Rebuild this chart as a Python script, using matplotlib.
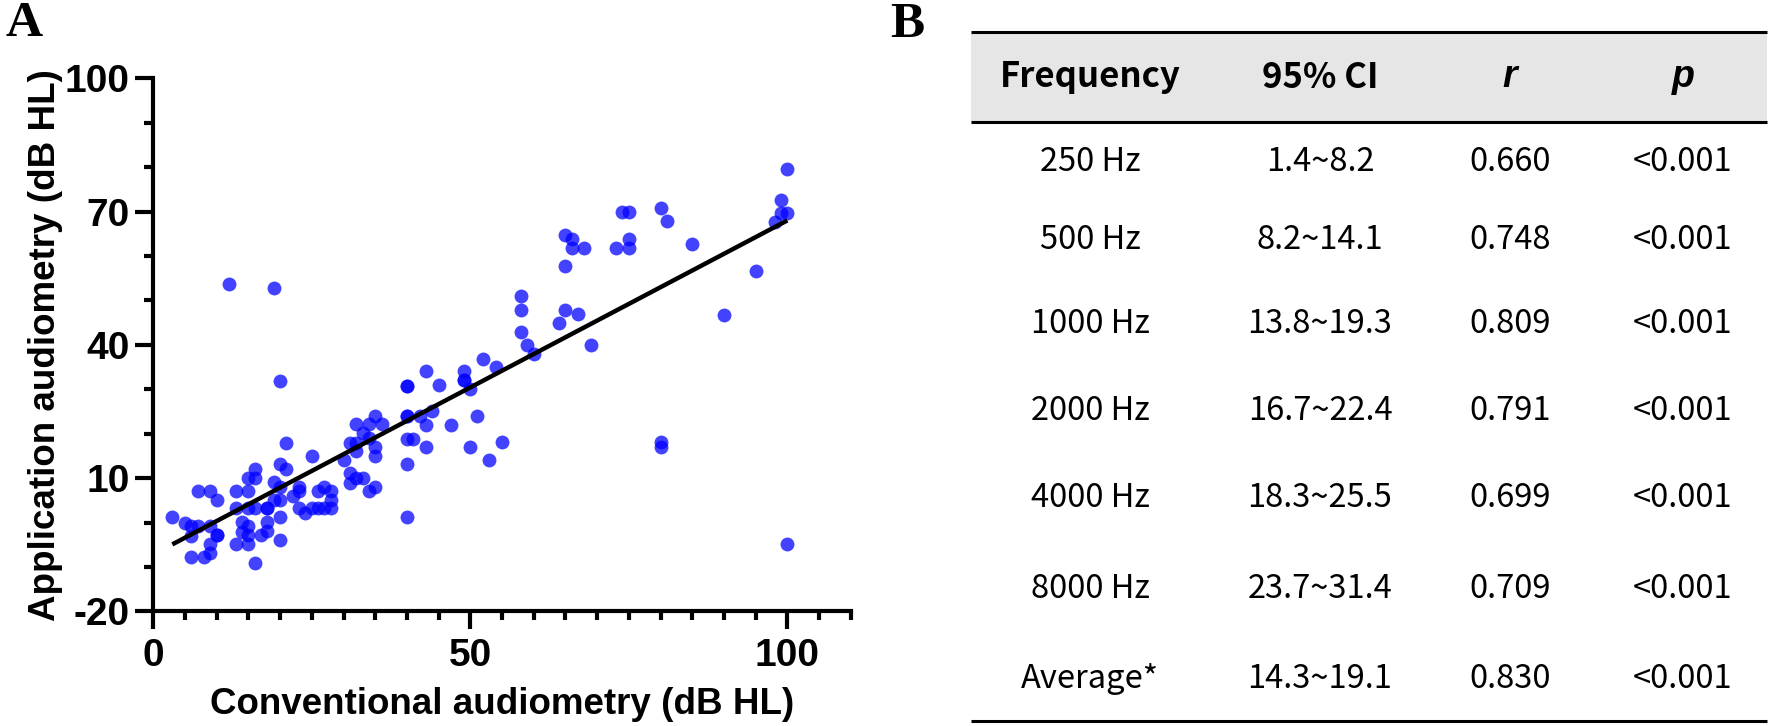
import numpy as np
import matplotlib
matplotlib.use("Agg")
import matplotlib.pyplot as plt
from matplotlib.ticker import MultipleLocator, FixedLocator

plt.rcParams["axes.unicode_minus"] = False

# ---------------- data (panel A) ----------------
conventional = [
    # low region
    21, 20, 21, 16, 15, 16, 19, 7, 9, 10, 13, 15, 20, 23, 23,
    22, 19, 20, 13, 15, 16, 18, 18, 23, 3, 5, 6, 7, 9, 14,
    15, 18, 20, 6, 10, 10, 14, 15, 17, 18, 9, 13, 15, 20, 9,
    6, 8, 16,
    # middle region
    40, 40, 40, 40, 42, 43, 40, 41, 43, 40, 40, 35, 32, 34, 36,
    33, 34, 31, 32, 35, 32, 35, 30, 31, 32, 33, 31, 35, 34, 25,
    26, 27, 28, 28, 24, 25, 26, 27, 28,
    # upper / outliers
    12, 19, 20, 43, 45, 44, 47, 51, 50, 55, 53, 49, 49, 49, 50,
    52, 54, 58, 58, 58, 59, 60, 64, 65, 67, 69, 65, 65, 66, 66,
    68, 73, 75, 75, 74, 75, 80, 81, 85, 80, 80, 90, 95, 98, 99,
    99, 100, 100, 100,
]
application = [
    18.0, 13.1, 12.0, 12.1, 10.0, 10.0, 9.2, 7.2, 7.2, 5.1, 7.2, 7.2, 7.9, 8.1, 7.1,
    6.0, 5.1, 5.1, 3.2, 3.2, 3.2, 3.2, 3.2, 3.2, 1.2, 0.0, -0.8, -0.8, -0.8, 0.1,
    -0.8, 0.1, 1.2, -3.0, -2.8, -2.8, -2.1, -2.8, -2.8, -1.8, -4.8, -4.8, -4.8, -3.9, -6.9,
    -7.8, -7.8, -9.0,
    30.7, 30.7, 24.0, 24.0, 24.0, 21.9, 18.9, 18.9, 17.1, 13.1, 1.2, 24.0, 22.1, 22.1, 22.1,
    20.1, 19.0, 18.0, 18.0, 17.1, 16.0, 15.0, 14.1, 11.1, 10.1, 10.1, 9.0, 8.1, 7.1, 15.0,
    7.1, 8.1, 7.1, 5.1, 2.2, 3.2, 3.2, 3.2, 3.2,
    53.7, 52.8, 31.9, 34.0, 30.9, 25.0, 22.0, 24.0, 17.1, 18.1, 14.1, 34.0, 32.0, 32.0, 30.0,
    36.9, 35.0, 50.9, 47.8, 42.9, 40.0, 37.9, 44.9, 47.8, 46.9, 40.0, 57.8, 64.8, 63.8, 61.7,
    61.7, 61.7, 63.8, 61.7, 69.8, 69.8, 70.7, 67.8, 62.7, 18.1, 17.1, 46.7, 56.7, 67.7, 72.6,
    69.7, 69.7, 79.6, -4.9,
]

x_ticks_major = [0, 50, 100]
y_ticks_major = [-20, 10, 40, 70, 100]
x_label = "Conventional audiometry (dB HL)"
y_label = "Application audiometry (dB HL)"

# ---------------- data (panel B) ----------------
table_header = ["Frequency", "95% CI", "r", "p"]
frequencies = ["250 Hz", "500 Hz", "1000 Hz", "2000 Hz", "4000 Hz", "8000 Hz", "Average*"]
ci_values = ["1.4~8.2", "8.2~14.1", "13.8~19.3", "16.7~22.4", "18.3~25.5", "23.7~31.4", "14.3~19.1"]
r_values = ["0.660", "0.748", "0.809", "0.791", "0.699", "0.709", "0.830"]
p_values = ["<0.001"] * 7

# ---------------- figure ----------------
W, H = 1769, 726
fig = plt.figure(figsize=(W / 100, H / 100), dpi=100)

SANS = ["Liberation Sans", "DejaVu Sans"]

axL, axR = 153.3, 850.7
ayT, ayB = 78.2, 611.4
ax = fig.add_axes([axL / W, 1 - ayB / H, (axR - axL) / W, (ayB - ayT) / H])

xc = np.array(conventional, dtype=float)
yc = np.array(application, dtype=float)
ax.scatter(xc, yc, s=100, color="#0000FF", alpha=0.74, linewidths=0, zorder=2)

coef = np.polyfit(xc, yc, 1)
xf = np.array([xc.min(), xc.max()])
ax.plot(xf, np.polyval(coef, xf), color="black", lw=3.2, zorder=3, solid_capstyle="butt")

ax.set_xlim(0, 110)
ax.set_ylim(-20, 100)
ax.xaxis.set_major_locator(FixedLocator(x_ticks_major))
ax.xaxis.set_minor_locator(MultipleLocator(5))
ax.yaxis.set_major_locator(FixedLocator(y_ticks_major))
ax.yaxis.set_minor_locator(MultipleLocator(10))

for s in ["top", "right"]:
    ax.spines[s].set_visible(False)
for s in ["left", "bottom"]:
    ax.spines[s].set_linewidth(3.0)

ax.tick_params(axis="both", which="major", length=13, width=3.0, direction="out")
ax.tick_params(axis="both", which="minor", length=6.5, width=3.0, direction="out")
ax.tick_params(axis="x", which="major", pad=6)
ax.tick_params(axis="y", which="major", pad=4)
for lab in ax.get_xticklabels() + ax.get_yticklabels():
    lab.set_family(SANS)
    lab.set_fontweight("bold")
    lab.set_fontsize(28)

ax.set_xlabel(x_label, family=SANS, fontweight="bold", fontsize=26.5)
ax.set_ylabel(y_label, family=SANS, fontweight="bold", fontsize=26.5)
ax.xaxis.set_label_coords(0.5, (ayB - 705) / (ayB - ayT))
ax.xaxis.label.set_va("center")
ax.yaxis.set_label_coords((46 - axL) / (axR - axL), 0.5)
ax.yaxis.label.set_va("center")

# panel letters
fig.text(24 / W, 1 - 24 / H, "A", family=["Liberation Serif", "DejaVu Serif"],
         fontweight="bold", fontsize=37, ha="center", va="center")
fig.text(907 / W, 1 - 25 / H, "B", family=["Liberation Serif", "DejaVu Serif"],
         fontweight="bold", fontsize=37, ha="center", va="center")

# ---------------- panel B table ----------------
tb = fig.add_axes([0, 0, 1, 1])
tb.set_xlim(0, W)
tb.set_ylim(H, 0)
tb.axis("off")

t_left, t_right = 971, 1767
t_top, t_head = 32, 122
t_bottom = 721
col_x = [1090, 1320, 1510, 1683]
row_y = [162, 240, 324, 411, 498, 589, 679]

tb.fill_between([t_left, t_right], t_top, t_head, color="#E6E6E6", lw=0, zorder=1)
for yy in (t_top, t_head, t_bottom):
    tb.plot([t_left, t_right], [yy, yy], color="black", lw=2.2, zorder=2,
            solid_capstyle="butt")

CJK = ["Noto Sans CJK KR", "DejaVu Sans"]
head_y = (t_top + t_head) / 2
for i, h in enumerate(table_header):
    if i >= 2:
        tb.text(col_x[i], head_y, h, family=["Liberation Sans", "DejaVu Sans"], style="italic",
                fontweight="bold", fontsize=27, ha="center", va="center")
    else:
        tb.text(col_x[i], head_y, h, family=CJK, fontweight="bold", fontsize=25,
                ha="center", va="center")

for k in range(len(frequencies)):
    for i, val in enumerate([frequencies[k], ci_values[k], r_values[k], p_values[k]]):
        tb.text(col_x[i], row_y[k], val, family=CJK, fontsize=23.5, ha="center", va="center")

fig.savefig("out.png", dpi=100)
